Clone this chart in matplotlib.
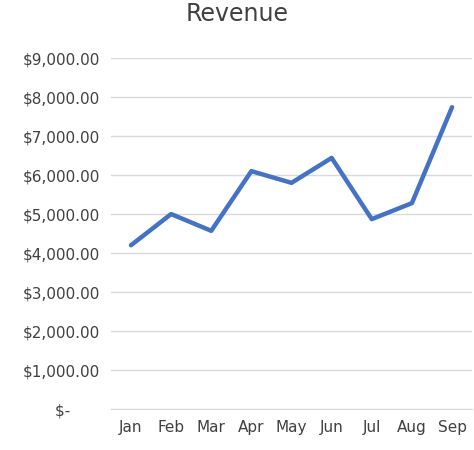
import matplotlib.pyplot as plt
from matplotlib.ticker import FuncFormatter

months = ["Jan", "Feb", "Mar", "Apr", "May", "Jun", "Jul", "Aug", "Sep"]
revenue = [4200, 5000, 4570, 6100, 5800, 6440, 4870, 5280, 7740]


def money(v, pos):
    if v == 0:
        return "$-      "
    return "${:,.2f}".format(v)


fig = plt.figure(figsize=(4.74, 4.5), dpi=100)
ax = fig.add_axes([0.234, 0.091, 0.762, 0.78])
ax.plot(range(len(months)), revenue, color="#4472C4", linewidth=3.2,
        solid_capstyle="round", solid_joinstyle="round")

ax.set_xlim(-0.5, len(months) - 0.5)
ax.set_ylim(0, 9000)
ax.set_yticks(range(0, 9001, 1000))
ax.yaxis.set_major_formatter(FuncFormatter(money))
ax.set_xticks(range(len(months)))
ax.set_xticklabels(months)
ax.grid(axis="y", color="#D9D9D9", linewidth=1)
ax.set_axisbelow(True)
for s in ["top", "right", "left"]:
    ax.spines[s].set_visible(False)
ax.spines["bottom"].set_color("#D9D9D9")
ax.tick_params(length=0, labelsize=11, colors="#404040", pad=8)

fig.suptitle("Revenue", x=0.5, y=0.995, fontsize=17, color="#404040")
fig.savefig("out.png", dpi=100)
